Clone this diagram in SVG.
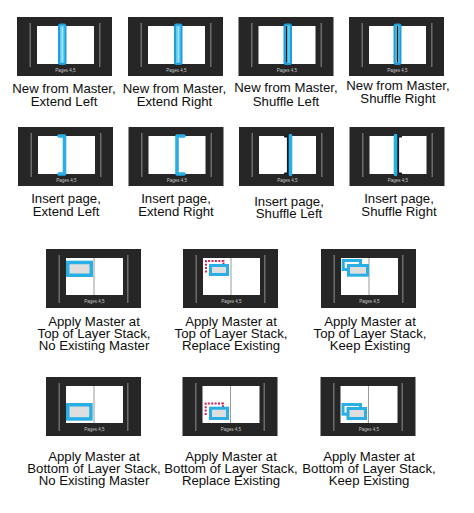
<svg xmlns="http://www.w3.org/2000/svg" xmlns:xlink="http://www.w3.org/1999/xlink" width="474" height="513" viewBox="0 0 474 513">
<style>
.bg{fill:#262626}
.side{fill:#6c6c6c}
.page{fill:#ffffff}
.spine{stroke:#9a9a9a;stroke-width:1}
.pg{font-family:"Liberation Sans",Arial,sans-serif;font-size:4.5px;fill:#c8c8c8;text-anchor:middle}
.lbl{font-family:"Liberation Sans",Arial,sans-serif;font-size:13.2px;fill:#0d0d0d;text-anchor:middle}
.bar{fill:#62cbf3;stroke:#1e9fd8;stroke-width:2}
.brk{fill:none;stroke:#2aaee6;stroke-width:3.6;stroke-linejoin:round;stroke-linecap:round}
.dk{fill:none;stroke:#1a1a1a;stroke-width:2.2;stroke-linejoin:round;stroke-linecap:round}
.mst{fill:#dedede;stroke:#2aaee6;stroke-width:3.5}
.mstb{fill:#ffffff;stroke:#2aaee6;stroke-width:3}
.mstf{fill:#dedede;stroke:#2aaee6;stroke-width:3}
.old{fill:none;stroke:#d4214e;stroke-width:2;stroke-dasharray:2 1.4}
</style>
<defs>
<g id="frameA">
<rect class="bg" x="0" y="0" width="95" height="59"/>
<rect class="side" x="12.5" y="6" width="1.5" height="44"/>
<rect class="side" x="82" y="6" width="1.5" height="44"/>
<rect class="page" x="20" y="9" width="57" height="38"/>
<text class="pg" x="48.5" y="55">Pages 4,5</text>
</g>
<g id="frameB">
<rect class="bg" x="0" y="0" width="95" height="59"/>
<rect class="side" x="12.5" y="6" width="1.5" height="48"/>
<rect class="side" x="81" y="6" width="1.5" height="48"/>
<rect class="page" x="20" y="9" width="57" height="37"/>
<line class="spine" x1="48" y1="9" x2="48" y2="46"/>
<text class="pg" x="48.5" y="54">Pages 4,5</text>
</g>
</defs>
<g id="connectors"/>

<g id="n1" transform="translate(17,17)">
<use xlink:href="#frameA"/>
<rect class="bar" x="42" y="7.5" width="6.5" height="39.5" rx="1.5"/>
<line x1="45.25" y1="10" x2="45.25" y2="44.5" stroke="#bfeafa" stroke-width="1"/>
</g>
<g id="n2" transform="translate(128,17)">
<use xlink:href="#frameA"/>
<rect class="bar" x="47" y="7.5" width="6.5" height="39.5" rx="1.5"/>
<line x1="50.25" y1="10" x2="50.25" y2="44.5" stroke="#bfeafa" stroke-width="1"/>
</g>
<g id="n3" transform="translate(238.5,17)">
<use xlink:href="#frameA"/>
<rect class="bar" x="46" y="7.5" width="6.5" height="39.5" rx="1.5"/>
<line x1="48" y1="9" x2="48" y2="45.5" stroke="#1a1a1a" stroke-width="1.3"/>
</g>
<g id="n4" transform="translate(349,17)">
<use xlink:href="#frameA"/>
<rect class="bar" x="45.5" y="7.5" width="6" height="39.5" rx="1.5"/>
<line x1="48.5" y1="9" x2="48.5" y2="45.5" stroke="#1a1a1a" stroke-width="1.3"/>
</g>

<g id="n5" transform="translate(18,127)">
<use xlink:href="#frameA"/>
<path class="brk" d="M41,9 H46.5 V47 H41"/>
</g>
<g id="n6" transform="translate(128.5,127)">
<use xlink:href="#frameA"/>
<path class="brk" d="M55.5,9 H48.5 V47 H55.5"/>
</g>
<g id="n7" transform="translate(239,127)">
<use xlink:href="#frameA"/>
<path class="dk" d="M46,9.5 H49 V46.5 H46"/>
<line x1="51.5" y1="8.5" x2="51.5" y2="47.5" stroke="#2aaee6" stroke-width="3.6" stroke-linecap="round"/>
</g>
<g id="n8" transform="translate(349.5,127)">
<use xlink:href="#frameA"/>
<path class="dk" d="M51.5,9.5 H48.5 V46.5 H51.5"/>
<line x1="46" y1="8.5" x2="46" y2="47.5" stroke="#2aaee6" stroke-width="3.6" stroke-linecap="round"/>
</g>

<g id="n9" transform="translate(46,249)">
<use xlink:href="#frameB"/>
<rect class="mst" x="21.75" y="13.45" width="23.5" height="12.8"/>
</g>
<g id="n10" transform="translate(183,249)">
<use xlink:href="#frameB"/>
<path class="old" d="M23,23.5 V12 H40.5 V15"/>
<rect class="mstf" x="27.5" y="16.5" width="17" height="9"/>
</g>
<g id="n11" transform="translate(321,249)">
<use xlink:href="#frameB"/>
<rect class="mstb" x="22.2" y="11.5" width="17.3" height="9"/>
<rect class="mstf" x="27.5" y="16.5" width="19" height="9.7"/>
</g>

<g id="n12" transform="translate(46,377)">
<use xlink:href="#frameB"/>
<rect class="mst" x="21.75" y="27.75" width="23.2" height="14.2"/>
</g>
<g id="n13" transform="translate(182.5,377)">
<use xlink:href="#frameB"/>
<path class="old" d="M23.2,38 V26.5 H40.5 V30"/>
<rect class="mstf" x="28" y="31.2" width="17" height="10.3"/>
</g>
<g id="n14" transform="translate(320.5,377)">
<use xlink:href="#frameB"/>
<rect class="mstb" x="22.5" y="27.5" width="17.5" height="9.7"/>
<rect class="mstf" x="27.5" y="31.5" width="17.5" height="10"/>
</g>

<g id="labels">
<text class="lbl" x="64" y="93">New from Master,<tspan x="64" dy="12.5">Extend Left</tspan></text>
<text class="lbl" x="174.5" y="93">New from Master,<tspan x="174.5" dy="12.5">Extend Right</tspan></text>
<text class="lbl" x="286" y="92">New from Master,<tspan x="286" dy="13.5">Shuffle Left</tspan></text>
<text class="lbl" x="398" y="90">New from Master,<tspan x="398" dy="12.5">Shuffle Right</tspan></text>

<text class="lbl" x="66" y="203">Insert page,<tspan x="66" dy="13">Extend Left</tspan></text>
<text class="lbl" x="176" y="203">Insert page,<tspan x="176" dy="13">Extend Right</tspan></text>
<text class="lbl" x="289" y="205.5">Insert page,<tspan x="289" dy="12.5">Shuffle Left</tspan></text>
<text class="lbl" x="399" y="203">Insert page,<tspan x="399" dy="12.5">Shuffle Right</tspan></text>

<text class="lbl" x="94" y="326">Apply Master at<tspan x="94" dy="12">Top of Layer Stack,</tspan><tspan x="94" dy="12">No Existing Master</tspan></text>
<text class="lbl" x="231" y="326">Apply Master at<tspan x="231" dy="12">Top of Layer Stack,</tspan><tspan x="231" dy="12">Replace Existing</tspan></text>
<text class="lbl" x="370" y="326">Apply Master at<tspan x="370" dy="12">Top of Layer Stack,</tspan><tspan x="370" dy="12">Keep Existing</tspan></text>

<text class="lbl" x="94" y="461">Apply Master at<tspan x="94" dy="12">Bottom of Layer Stack,</tspan><tspan x="94" dy="12">No Existing Master</tspan></text>
<text class="lbl" x="231" y="461">Apply Master at<tspan x="231" dy="12">Bottom of Layer Stack,</tspan><tspan x="231" dy="12">Replace Existing</tspan></text>
<text class="lbl" x="369" y="461">Apply Master at<tspan x="369" dy="12">Bottom of Layer Stack,</tspan><tspan x="369" dy="12">Keep Existing</tspan></text>
</g>
</svg>
